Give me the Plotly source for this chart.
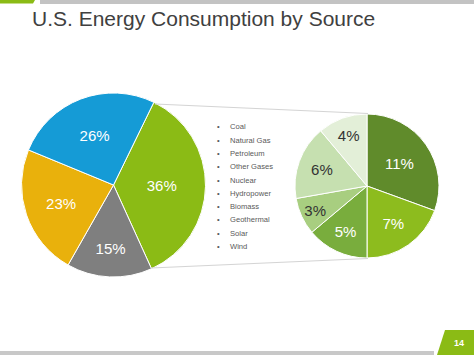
import plotly.graph_objects as go

# ---- data ----
main_labels = ["Other", "Coal", "Natural Gas", "Petroleum"]
main_values = [36, 15, 23, 26]
main_colors = ["#8bbb15", "#7f7f7f", "#e9b10c", "#159bd6"]

sub_labels = ["Nuclear", "Hydropower", "Biomass", "Geothermal", "Solar", "Wind"]
sub_values = [11, 7, 5, 3, 6, 4]
sub_colors = ["#608b2b", "#8dbc1e", "#79ad3d", "#a8ce80", "#c6e0b0", "#e3efd8"]
sub_text_colors = ["#ffffff", "#ffffff", "#ffffff", "#333333", "#333333", "#333333"]

legend_items = ["Coal", "Natural Gas", "Petroleum", "Other Gases", "Nuclear",
                "Hydropower", "Biomass", "Geothermal", "Solar", "Wind"]

title_text = "U.S. Energy Consumption by Source"
page_number = "14"

W, H = 474, 355
FONT = "Liberation Sans, Arial, sans-serif"


def px(x):
    return x / W


def py(y):
    return 1 - y / H


fig = go.Figure()

fig.add_trace(go.Pie(
    labels=main_labels, values=main_values, sort=False,
    direction="clockwise", rotation=26,
    marker=dict(colors=main_colors, line=dict(color="#ffffff", width=1)),
    texttemplate="%{value}%", textposition="inside",
    insidetextorientation="horizontal",
    textfont=dict(family=FONT, size=15, color="#ffffff"),
    domain=dict(x=[px(21.5), px(205.5)], y=[py(277), py(93)]),
    showlegend=False, hoverinfo="label+percent",
))

fig.add_trace(go.Pie(
    labels=sub_labels, values=sub_values, sort=False,
    direction="clockwise", rotation=0,
    marker=dict(colors=sub_colors, line=dict(color="#ffffff", width=1)),
    texttemplate="%{value}%", textposition="inside",
    insidetextorientation="horizontal",
    textfont=dict(family=FONT, size=15, color=sub_text_colors),
    domain=dict(x=[px(295), px(439)], y=[py(258), py(114)]),
    showlegend=False, hoverinfo="label+value",
))

shapes = [
    # top bars
    dict(type="path", path=f"M 0 {py(0)} L {px(35)} {py(0)} L {px(33)} {py(3.5)} L 0 {py(3.5)} Z",
         xref="paper", yref="paper", fillcolor="#8bbb15", line=dict(width=0)),
    dict(type="rect", x0=px(40), x1=1, y0=py(4), y1=py(0), xref="paper", yref="paper",
         fillcolor="#c3c3c3", line=dict(width=0)),
    # bottom bar and badge
    dict(type="rect", x0=0, x1=px(434), y0=py(355), y1=py(351), xref="paper", yref="paper",
         fillcolor="#c8c8c8", line=dict(width=0)),
    dict(type="path", path=f"M {px(437)} {py(355)} L {px(445)} {py(330)} L 1 {py(330)} L 1 {py(355)} Z",
         xref="paper", yref="paper", fillcolor="#8bbb15", line=dict(width=0)),
    # connector lines
    dict(type="line", x0=px(155), y0=py(104), x1=px(368), y1=py(113.5), xref="paper", yref="paper",
         line=dict(color="#d4d4d4", width=1)),
    dict(type="line", x0=px(151), y0=py(268), x1=px(368), y1=py(258.5), xref="paper", yref="paper",
         line=dict(color="#d4d4d4", width=1)),
]

annotations = [
    dict(text=title_text, x=px(30), y=py(18), xref="paper", yref="paper",
         xanchor="left", yanchor="middle", showarrow=False,
         font=dict(family=FONT, size=21, color="#404040")),
    dict(text=f"<b>{page_number}</b>", x=px(459), y=py(342.5), xref="paper", yref="paper",
         xanchor="center", yanchor="middle", showarrow=False,
         font=dict(family=FONT, size=9, color="#ffffff")),
]

for i, item in enumerate(legend_items):
    yy = 127 + i * 13.25
    annotations.append(dict(text="•", x=px(218), y=py(yy), xref="paper", yref="paper",
                            xanchor="center", yanchor="middle", showarrow=False,
                            font=dict(family=FONT, size=7.6, color="#595959")))
    annotations.append(dict(text=item, x=px(228), y=py(yy), xref="paper", yref="paper",
                            xanchor="left", yanchor="middle", showarrow=False,
                            font=dict(family=FONT, size=7.6, color="#595959")))

fig.update_layout(
    width=W, height=H,
    margin=dict(l=0, r=0, t=0, b=0),
    paper_bgcolor="#ffffff", plot_bgcolor="#ffffff",
    shapes=shapes, annotations=annotations,
    font=dict(family=FONT),
)

fig.write_html("out.html",
               config={"displayModeBar": False},
               post_script="document.body.style.margin='0';document.body.style.overflow='hidden';")
